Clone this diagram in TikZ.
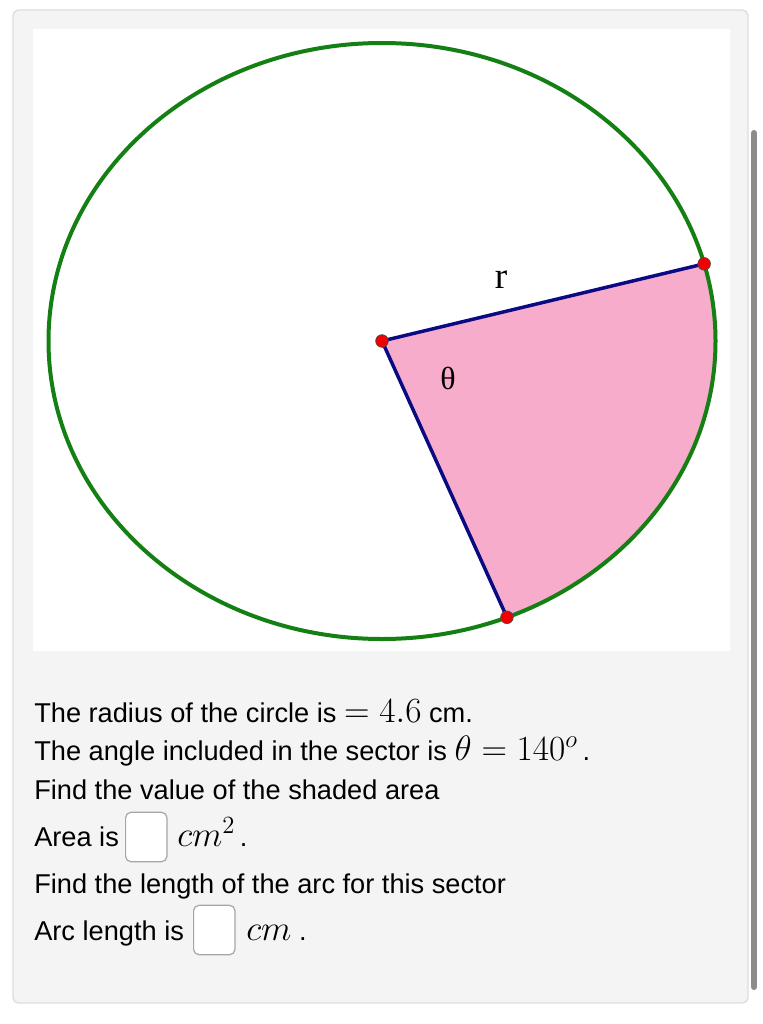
\RequirePackage{fix-cm}
\documentclass[tikz,border=0pt]{standalone}
\usepackage{amsmath,amssymb,graphicx}
\usepackage{fontspec}
\setmainfont{Liberation Sans}
\newfontfamily\figfont{Liberation Serif}
\newcommand{\mth}[1]{\scalebox{1.3}{$#1$}}
\usetikzlibrary{positioning,calc}
\definecolor{panelgray}{RGB}{244,244,244}
\definecolor{rimgray}{RGB}{221,221,221}
\definecolor{arcgreen}{RGB}{20,128,20}
\definecolor{radnavy}{RGB}{10,10,130}
\definecolor{sectorpink}{RGB}{248,172,204}
\definecolor{dotred}{RGB}{240,0,0}
\tikzset{
  txt/.style={anchor=base west, inner sep=0pt, font=\fontsize{20.4}{24}\selectfont},
  ansbox/.style={draw=gray!70, fill=white, rounded corners=4pt, line width=0.9pt,
    minimum width=31pt, minimum height=37pt, inner sep=0pt},
  ptdot/.style={circle, fill=dotred, draw=black!70, line width=0.5pt, inner sep=0pt, minimum size=9.5pt},
  figlabel/.style={font=\figfont\fontsize{24}{26}\selectfont}
}
\begin{document}
\begin{tikzpicture}[x=0.75pt, y=0.75pt]
	\useasboundingbox (0,0) rectangle (763,-1024);
	% panel and scroll bar
	\draw[fill=panelgray, draw=rimgray, line width=1pt, rounded corners=4pt] (13,-10) rectangle (748,-1003);
	\draw[line width=4.5pt, gray!90, line cap=round] (754,-133) -- (754,-987);
	\fill[white] (33,-29) rectangle (730,-651);
	% the figure
	\coordinate (O) at (382,-341);
	\coordinate (A) at ($(O)+(15:333.5 and 298)$);
	\coordinate (B) at ($(O)+(-68:333.5 and 298)$);
	\fill[sectorpink] (O) -- (A) arc[start angle=15, end angle=-68, x radius=333.5, y radius=298] -- cycle;
	\draw[arcgreen, line width=3pt] (O) ellipse[x radius=333.5, y radius=298];
	\draw[radnavy, line width=2.6pt] (A) -- (O) -- (B);
	\node[ptdot] (C) at (O) {};
	\node[ptdot] (P) at (A) {};
	\node[ptdot] (Q) at (B) {};
	\node[figlabel, font=\figfont\fontsize{28}{30}\selectfont] (rlab) at (501,-280) {r};
	\node[figlabel] (thlab) at (448,-378) {θ};
	% question text
	\node[txt] (l1) at (34,-722) {The radius of the circle is \mth{= 4.6} cm.};
	\node[txt] (l2) at (34,-760) {The angle included in the sector is \mth{\theta = 140^{o}}\,.};
	\node[txt] (l3) at (34,-799) {Find the value of the shaded area};
	\node[txt] (l4) at (34,-846) {Area is};
	\node[ansbox, anchor=west] (box1) at (125,-837) {};
	\node[txt] (u1) at (177,-846) {\mth{cm^2}\,.};
	\node[txt] (l5) at (34,-893) {Find the length of the arc for this sector};
	\node[txt] (l6) at (34,-940) {Arc length is};
	\node[ansbox, anchor=west] (box2) at (193,-930) {};
	\node[txt] (u2) at (246,-940) {\mth{cm}\ .};
\end{tikzpicture}
\end{document}
